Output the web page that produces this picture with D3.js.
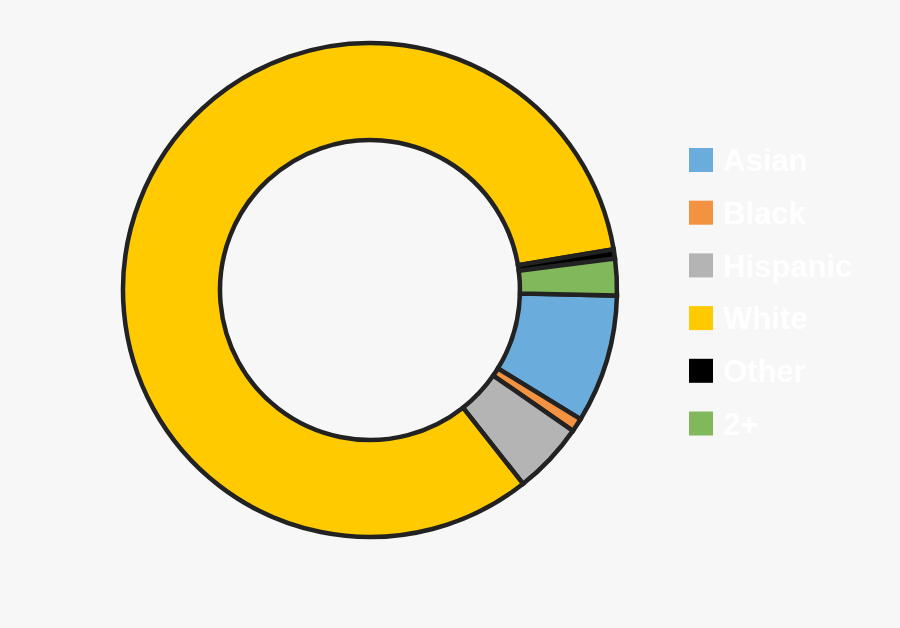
<!DOCTYPE html>
<html>
<head>
<meta charset="utf-8">
<script src="https://cdn.jsdelivr.net/npm/d3@7"></script>
<style>
  html, body { margin: 0; padding: 0; background: #f7f7f7; }
  svg { display: block; }
</style>
</head>
<body>
<div id="chart"></div>
<script>
const categories = ['Asian', 'Black', 'Hispanic', 'White', 'Other', '2+'];
const shares = [8.4, 0.9, 4.7, 83.0, 0.6, 2.4];
const shareLabels = ['8%', '1%', '5%', '83%', '1%', '2%'];

const COLORS = {
  'Asian': '#6aacdc',
  'Black': '#f39240',
  'Hispanic': '#b4b4b4',
  'White': '#ffcb00',
  'Other': '#000000',
  '2+': '#81b85c',
};

const width = 900, height = 628;
const cx = 370, cy = 290;
const outerR = 247, innerR = 150;

const svg = d3.select('#chart').append('svg')
  .attr('width', width).attr('height', height);

svg.append('rect').attr('width', width).attr('height', height).attr('fill', '#f7f7f7');

const data = categories.map((c, i) => ({ name: c, value: shares[i], label: shareLabels[i] }));

// chart is rotated so the first slice starts just below 3 o'clock
const startDeg = 91.3;
const pie = d3.pie().value(d => d.value).sort(null)
  .startAngle(startDeg * Math.PI / 180)
  .endAngle((startDeg + 360) * Math.PI / 180);
const arc = d3.arc().innerRadius(innerR).outerRadius(outerR);

const g = svg.append('g').attr('transform', `translate(${cx},${cy})`);
const arcs = pie(data);

g.selectAll('path').data(arcs).enter().append('path')
  .attr('d', arc)
  .attr('fill', d => COLORS[d.data.name])
  .attr('stroke', '#222')
  .attr('stroke-width', 4.5)
  .attr('stroke-linejoin', 'miter');

// outside-end labels; the big slice label sits on the left like the original
const labelR = 275;
g.selectAll('text.pct').data(arcs).enter().append('text')
  .attr('class', 'pct')
  .attr('transform', d => {
    let a = (d.startAngle + d.endAngle) / 2;
    let r = labelR;
    if (d.data.name === 'White') { a = 267.5 * Math.PI / 180; r = 298; }
    return `translate(${r * Math.sin(a)},${-r * Math.cos(a)})`;
  })
  .attr('text-anchor', 'middle')
  .attr('dy', '0.35em')
  .style('font-family', 'Roboto, "Liberation Sans", sans-serif')
  .style('font-weight', 300)
  .style('font-size', '20px')
  .attr('fill', '#ffffff')
  .text(d => d.label);

// legend
const legend = svg.append('g').attr('transform', 'translate(689,160)');
const y = d3.scalePoint().domain(categories).range([0, 52.7 * (categories.length - 1)]);

const rows = legend.selectAll('g').data(categories).enter().append('g')
  .attr('transform', d => `translate(0,${y(d)})`);

rows.append('rect')
  .attr('x', 0).attr('y', -12)
  .attr('width', 24).attr('height', 24)
  .attr('fill', d => COLORS[d]);

rows.append('text')
  .attr('x', 34)
  .attr('dy', '0.36em')
  .style('font-family', '"Liberation Sans", Arial, sans-serif')
  .style('font-weight', 700)
  .style('font-size', '31px')
  .attr('fill', '#ffffff')
  .text(d => d);
</script>
</body>
</html>
